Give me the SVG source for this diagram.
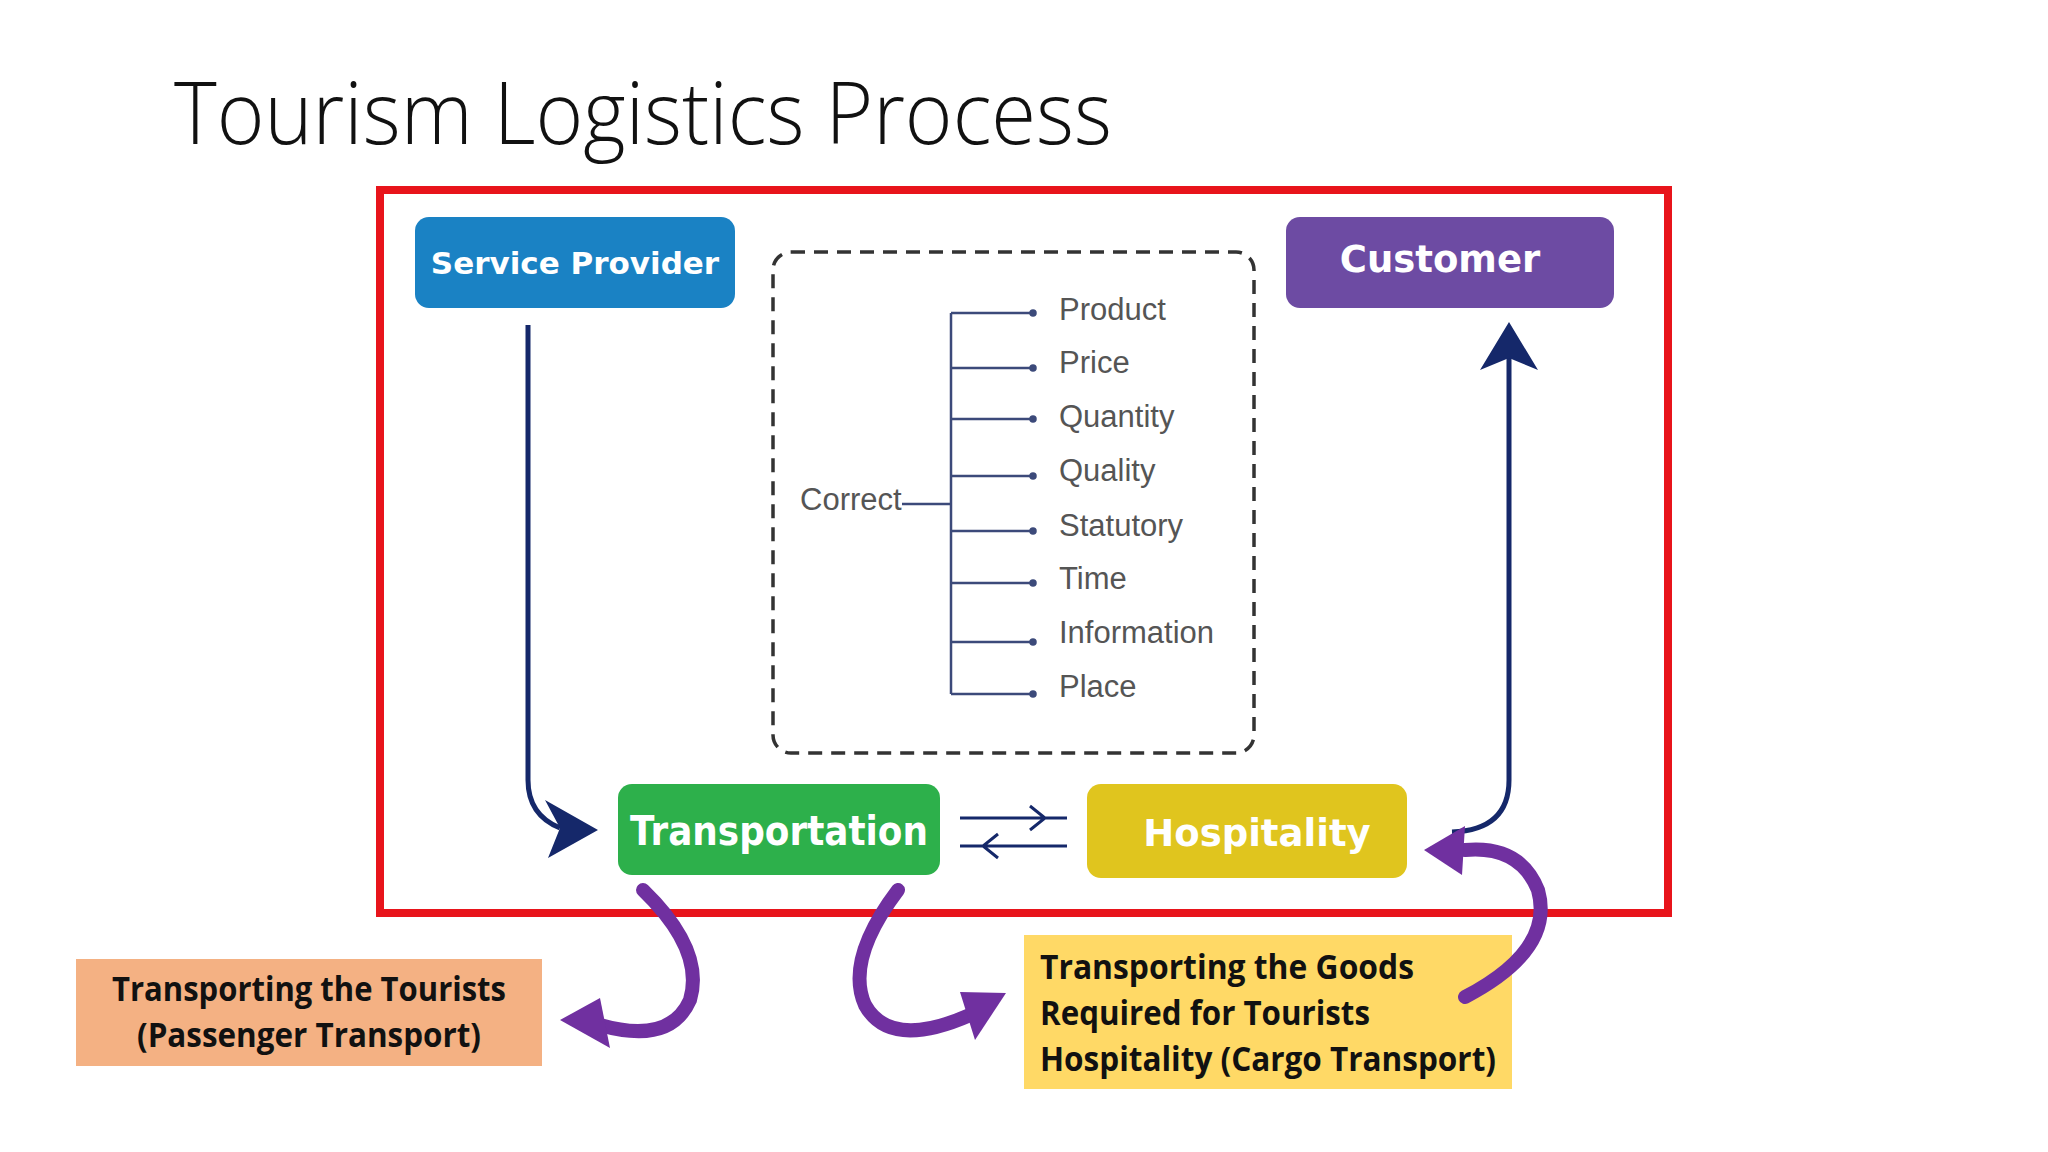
<svg xmlns="http://www.w3.org/2000/svg" width="2048" height="1152" viewBox="0 0 2048 1152">
<style>
.lbl{font-family:"DejaVu Sans",sans-serif;font-weight:bold;fill:#fff;text-anchor:middle}
.item{font-family:"Liberation Sans",Arial,sans-serif;font-size:31px;fill:#555}
.note{font-family:"Open Sans","Liberation Sans",sans-serif;font-weight:bold;font-size:34px;fill:#111}
.tree{stroke:#3c4a7a;stroke-width:2.5;fill:none}
.nav{stroke:#15286a;stroke-width:5;fill:none}
.pur{stroke:#7030a0;stroke-width:14;fill:none;stroke-linecap:round}
</style>
<defs>
<marker id="dot" viewBox="0 0 6 6" refX="3" refY="3" markerWidth="3" markerHeight="3"><circle cx="3" cy="3" r="3" fill="#3c4a7a"/></marker>
</defs>
<rect width="2048" height="1152" fill="#fff"/>
<text x="174" y="144" font-family="Open Sans,Liberation Sans,sans-serif" font-weight="300" font-size="86" fill="#111" textLength="938" lengthAdjust="spacingAndGlyphs">Tourism Logistics Process</text>
<rect x="380" y="190" width="1288" height="723" fill="none" stroke="#e8141b" stroke-width="8"/>
<g id="service-provider"><rect x="415" y="217" width="320" height="91" rx="14" fill="#1a82c4"/><text class="lbl" x="575" y="274" font-size="31">Service Provider</text></g>
<g id="customer"><rect x="1286" y="217" width="328" height="91" rx="14" fill="#6d4ba3"/><text class="lbl" x="1440" y="272" font-size="37">Customer</text></g>
<g id="correct-box">
<rect x="773" y="252" width="481" height="501" rx="18" fill="none" stroke="#333" stroke-width="3.5" stroke-dasharray="14,9"/>
<text class="item" x="800" y="510" font-size="27">Correct</text>
<path class="tree" d="M902 504H951M951 313V694"/>
<g class="tree" marker-end="url(#dot)">
<path d="M951 313H1033"/><path d="M951 368H1033"/><path d="M951 419H1033"/><path d="M951 476H1033"/><path d="M951 531H1033"/><path d="M951 583H1033"/><path d="M951 642H1033"/><path d="M951 694H1033"/>
</g>
<text class="item" x="1059" y="320">Product</text>
<text class="item" x="1059" y="373">Price</text>
<text class="item" x="1059" y="427">Quantity</text>
<text class="item" x="1059" y="481">Quality</text>
<text class="item" x="1059" y="536">Statutory</text>
<text class="item" x="1059" y="589">Time</text>
<text class="item" x="1059" y="643">Information</text>
<text class="item" x="1059" y="697">Place</text>
</g>
<g id="transportation"><rect x="618" y="784" width="322" height="91" rx="14" fill="#2db04b"/><text class="lbl" x="779" y="845" font-size="40" textLength="298" lengthAdjust="spacingAndGlyphs">Transportation</text></g>
<g id="hospitality"><rect x="1087" y="784" width="320" height="94" rx="14" fill="#e0c51e"/><text class="lbl" x="1257" y="846" font-size="37">Hospitality</text></g>
<g id="note-passenger"><rect x="76" y="959" width="466" height="107" fill="#f4b183"/>
<text class="note" x="309" y="1001" text-anchor="middle" textLength="394" lengthAdjust="spacingAndGlyphs">Transporting the Tourists</text>
<text class="note" x="309" y="1047" text-anchor="middle" textLength="344" lengthAdjust="spacingAndGlyphs">(Passenger Transport)</text></g>
<g id="note-cargo"><rect x="1024" y="935" width="488" height="154" fill="#ffd966"/>
<text class="note" x="1040" y="979" textLength="374" lengthAdjust="spacingAndGlyphs">Transporting the Goods</text>
<text class="note" x="1040" y="1025" textLength="330" lengthAdjust="spacingAndGlyphs">Required for Tourists</text>
<text class="note" x="1040" y="1071" textLength="456" lengthAdjust="spacingAndGlyphs">Hospitality (Cargo Transport)</text></g>
<g id="connectors">
<path class="nav" d="M528 325V780Q528 815 560 828"/>
<polygon points="598,830 545,800 560,828 548,858" fill="#15286a"/>
<path class="nav" d="M1452 832Q1509 830 1509 780V350"/>
<polygon points="1509,322 1480,370 1509,358 1538,370" fill="#15286a"/>
<path class="tree" style="stroke:#15286a;stroke-width:3" d="M960 818H1067M1030 806L1045 818L1030 830M960 846H1067M998 834L983 846L998 858"/>
<path class="pur" d="M643 890Q705 950 690 1000Q670 1045 600 1025"/>
<polygon points="560,1020 600,998 610,1048" fill="#7030a0"/>
<path class="pur" d="M898 890Q845 960 865 1005Q890 1050 970 1015"/>
<polygon points="1006,993 960,992 975,1040" fill="#7030a0"/>
<path class="pur" d="M1465 997Q1555 950 1538 890Q1520 845 1465 850"/>
<polygon points="1424,850 1465,826 1462,875" fill="#7030a0"/>
</g>
</svg>
